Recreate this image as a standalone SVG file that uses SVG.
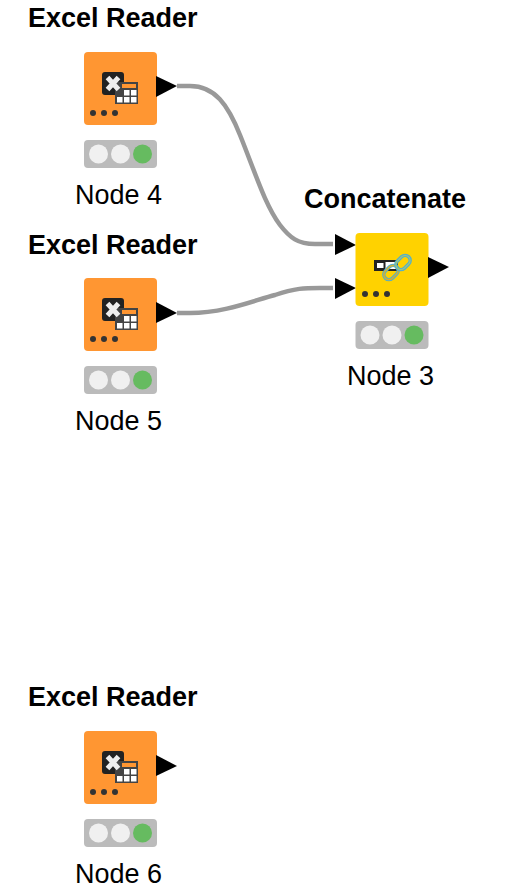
<svg xmlns="http://www.w3.org/2000/svg" width="512" height="892" viewBox="0 0 512 892">
<style>
text{font-family:"Liberation Sans",Arial,sans-serif;fill:#000;font-size:27px}
.t{font-weight:bold}
.c{fill:none;stroke:#999;stroke-width:4.500}
.p{fill:#000}
.o{fill:#ff9632}
.y{fill:#ffd200}
.tl{fill:#bbb}
.w{fill:#f0f0f0}
.g{fill:#66bb60}
.d{fill:#333}
</style>
<defs>
<g id="tlight">
<rect x="0" y="0" width="73" height="28" rx="4" class="tl"/>
<circle cx="14.500" cy="14" r="9.500" class="w"/>
<circle cx="36.500" cy="14" r="9.500" class="w"/>
<circle cx="58.500" cy="14" r="9.500" class="g"/>
</g>
<g id="dots">
<circle cx="0" cy="0" r="3" class="d"/>
<circle cx="11" cy="0" r="3" class="d"/>
<circle cx="22" cy="0" r="3" class="d"/>
</g>
<g id="excel">
<rect x="0" y="0" width="73" height="73" rx="4" class="o"/>
<rect x="18" y="20" width="22" height="23" rx="3" fill="#222"/>
<rect x="31" y="30" width="23" height="22" fill="#444"/>
<path d="M23.500 25.500l11 12M34.500 25.500l-11 12" stroke="#eee" stroke-width="5" fill="none"/>
<rect x="38" y="32" width="14" height="4" fill="#ff9632"/>
<g fill="#fff"><rect x="40" y="38" width="5.500" height="5.500"/><rect x="47" y="38" width="5.500" height="5.500"/><rect x="33" y="45" width="5.500" height="5.500"/><rect x="40" y="45" width="5.500" height="5.500"/><rect x="47" y="45" width="5.500" height="5.500"/></g>
<use href="#dots" x="9" y="61"/>
</g>
</defs>
<g id="connectors">
<path class="c" d="M177 86H190C215 86 228 105 240 135C255 172 265 205 280 225C290 238 298 244 315 244H333"/>
<path class="c" d="M177 313H190C225 313 255 300 275 295C295 288 305 288 320 288H333"/>
</g>
<g id="node4">
<text class="t" x="28" y="27">Excel Reader</text>
<use href="#excel" x="84" y="52"/>
<polygon class="p" points="156,76 177,86 156,97"/>
<use href="#tlight" x="84" y="140"/>
<text x="75" y="204">Node 4</text>
</g>
<g id="node5">
<text class="t" x="28" y="254">Excel Reader</text>
<use href="#excel" x="84" y="278"/>
<polygon class="p" points="156,302 177,313 156,323"/>
<use href="#tlight" x="84" y="366"/>
<text x="75" y="430">Node 5</text>
</g>
<g id="node6">
<text class="t" x="28" y="706">Excel Reader</text>
<use href="#excel" x="84" y="731"/>
<polygon class="p" points="156,755 177,766 156,776"/>
<use href="#tlight" x="84" y="819"/>
<text x="75" y="883">Node 6</text>
</g>
<g id="node3">
<text class="t" x="304" y="208">Concatenate</text>
<polygon class="p" points="335,234 356,245 335,255"/>
<polygon class="p" points="335,278 356,288 335,299"/>
<rect x="355.500" y="233" width="73" height="73" rx="4" class="y"/>
<rect x="375" y="261" width="22" height="9" fill="#fff" stroke="#222" stroke-width="2"/>
<rect x="376" y="262" width="8.500" height="7" fill="#fff" stroke="#222" stroke-width="2"/>
<g fill="none">
<g transform="rotate(45 391 272.500)"><rect x="386" y="264.500" width="10" height="16" rx="5" stroke="#55b0c8" stroke-width="3.500"/><rect x="386" y="264.500" width="10" height="16" rx="5" stroke="#d8b030" stroke-width="1.500"/></g>
<g transform="rotate(45 403 262.500)"><rect x="398" y="254.500" width="10" height="16" rx="5" stroke="#55b0c8" stroke-width="3.500"/><rect x="398" y="254.500" width="10" height="16" rx="5" stroke="#a8c878" stroke-width="1"/></g>
</g>
<use href="#dots" x="365" y="294"/>
<polygon class="p" points="428,257 449,267 428,278"/>
<use href="#tlight" x="355.500" y="321"/>
<text x="347" y="385">Node 3</text>
</g>
</svg>
